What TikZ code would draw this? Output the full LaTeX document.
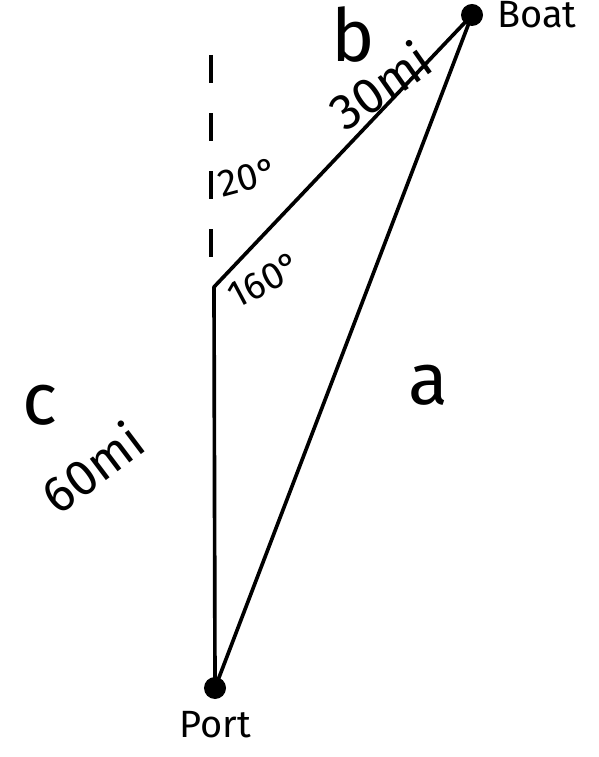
\documentclass[tikz,border=0pt]{standalone}
\usepackage{fontspec}
\setmainfont{Fira Sans}
\usetikzlibrary{positioning}

\begin{document}
\begin{tikzpicture}[x = 0.025cm, y = 0.025cm, line width = 2.6pt,
        dot/.style = {circle, fill, inner sep = 0pt, minimum size = 0.55cm},
        lbl/.style = {font = \fontsize{27}{32}\selectfont},
        big/.style = {font = \fontsize{36}{42}\selectfont},
        side/.style = {font = \fontsize{52}{60}\selectfont}]
            % \draw[style = help lines] (0,0) grid (599,757);
            \useasboundingbox (0,0) rectangle (599,757);

            \node[dot] (port) at (215,69) {};
            \node[dot] (boat) at (472,742) {};
            \coordinate (turn) at (214,470);
            \coordinate (northtop) at (211,702);
            \coordinate (northbot) at (211,494);

            \draw[line join = round] (port.center) -- (turn) -- (boat.center) -- cycle;
            \draw[dash pattern = on 0.7cm off 0.75cm] (northtop) -- (northbot);

            \node[lbl, right = 0.15cm of boat] (boatlbl) {Boat};
            \node[lbl, below = 0.1cm of port] (portlbl) {Port};

            \node[side] (b) at (353,722) {b};
            \node[side] (a) at (428,372) {a};
            \node[side] (c) at (40,352) {c};

            \node[big, rotate = 35] (blen) at (380,672) {30mi};
            \node[big, rotate = 37] (clen) at (92,290) {60mi};
            \node[lbl, rotate = 15] (north) at (248,580) {20°};
            \node[lbl, rotate = 28] (inner) at (265,477) {160°};
        \end{tikzpicture}
\end{document}
